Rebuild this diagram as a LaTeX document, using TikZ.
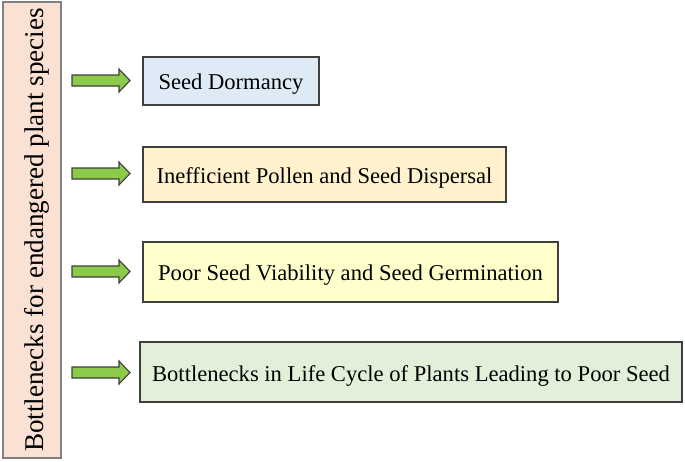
\documentclass[tikz,border=0pt]{standalone}
\usepackage{fontspec}
\setmainfont{Liberation Serif}
\definecolor{peach}{HTML}{FBE1D4}
\definecolor{bluefill}{HTML}{DEEBF7}
\definecolor{orangefill}{HTML}{FFF2CC}
\definecolor{yellowfill}{HTML}{FFFFCC}
\definecolor{greenfill}{HTML}{E2F0D9}
\definecolor{arrowgreen}{HTML}{8CCB4A}
\definecolor{edgegray}{HTML}{3F3F3F}
\definecolor{sidegray}{HTML}{808080}
\tikzset{
  itembox/.style={draw=edgegray, line width=1.1pt},
  itemtext/.style={font=\fontsize{22.6}{26}\selectfont, anchor=base, inner sep=0pt},
  blockarrow/.style={fill=arrowgreen, draw=edgegray, line width=1.1pt, line join=miter},
}
\begin{document}
\begin{tikzpicture}[x=1pt,y=-1pt]
\useasboundingbox (0,0) rectangle (685,461);
% left vertical box
\draw[fill=peach, draw=sidegray, line width=1.1pt] (3,2) rectangle (61,458);
\node[font=\fontsize{27.1}{30}\selectfont, rotate=90, anchor=base, inner sep=0pt] (side) at (43,230) {Bottlenecks for endangered plant species};
% boxes
\draw[itembox, fill=bluefill] (143,57) rectangle (319,105);
\node[itemtext] (b1) at (231,89.5) {Seed Dormancy};
\draw[itembox, fill=orangefill] (143,147) rectangle (506,202);
\node[itemtext] (b2) at (324.5,183) {Inefficient Pollen and Seed Dispersal};
\draw[itembox, fill=yellowfill] (143,242) rectangle (558,302);
\node[itemtext] (b3) at (350.5,280.5) {Poor Seed Viability and Seed Germination};
\draw[itembox, fill=greenfill] (140,342) rectangle (682,402);
\node[itemtext] (b4) at (411,381) {Bottlenecks in Life Cycle of Plants Leading to Poor Seed};
% arrows
\foreach \yc in {80.5,173.5,271.5,372.5}{
  \draw[blockarrow] (72,\yc-5.5) -- (119,\yc-5.5) -- (119,\yc-11.5) -- (130,\yc) -- (119,\yc+11.5) -- (119,\yc+5.5) -- (72,\yc+5.5) -- cycle;
}
\end{tikzpicture}
\end{document}
